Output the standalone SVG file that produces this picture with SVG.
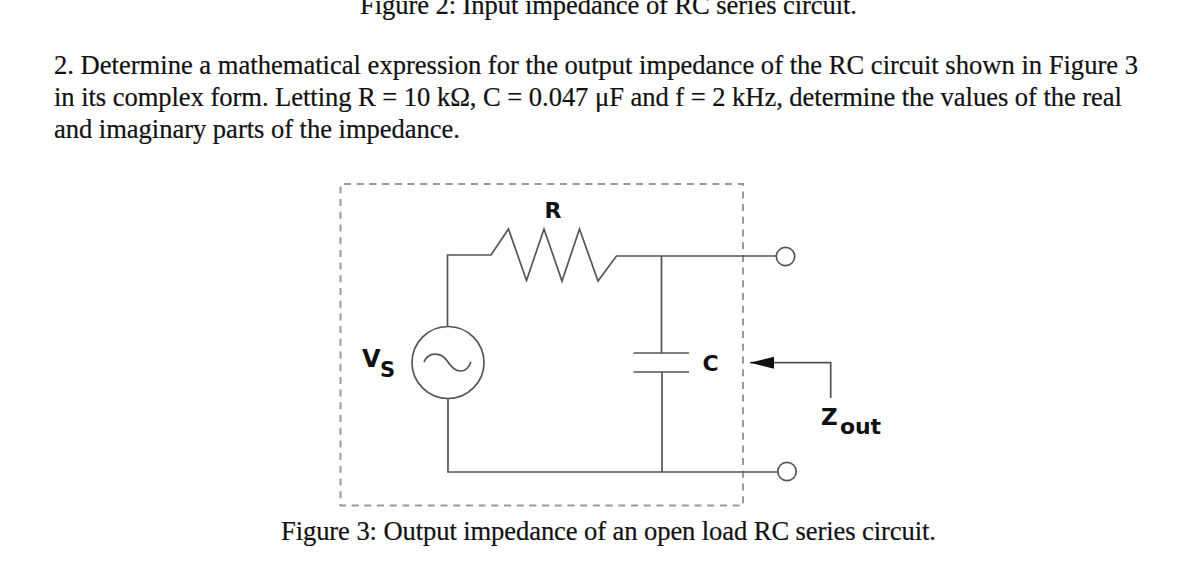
<svg xmlns="http://www.w3.org/2000/svg" width="1200" height="574" viewBox="0 0 1200 574">
<defs>
<style>
.t{font-family:"Liberation Serif","Times New Roman",serif;font-size:26.6px;fill:#111;stroke:#111;stroke-width:.2}
.l{font-family:"DejaVu Sans",sans-serif;font-weight:bold;fill:#111}
.w{fill:none;stroke:#555;stroke-width:1.7}
.d{fill:none;stroke:#999;stroke-width:2;stroke-dasharray:7 5.7;stroke-dashoffset:-3.5}
</style>
<marker id="ah" markerUnits="userSpaceOnUse" markerWidth="26" markerHeight="14" refX="24" refY="7" orient="auto"><path d="M0 1L24 7L0 13Z" fill="#111"/></marker>
</defs>
<rect width="1200" height="574" fill="#fff"/>
<g id="text">
<text class="t" x="360" y="14" textLength="497">Figure 2: Input impedance of RC series circuit.</text>
<text class="t" x="54" y="74" textLength="1084">2. Determine a mathematical expression for the output impedance of the RC circuit shown in Figure 3</text>
<text class="t" x="54" y="106" textLength="1068">in its complex form. Letting R = 10 kΩ, C = 0.047 μF and f = 2 kHz, determine the values of the real</text>
<text class="t" x="54" y="138" textLength="406">and imaginary parts of the impedance.</text>
<text class="t" x="281" y="540" textLength="655">Figure 3: Output impedance of an open load RC series circuit.</text>
</g>
<g id="boundary"><rect class="d" x="340.5" y="184" width="402.5" height="321.5"/></g>
<g id="connectors">
<path class="w" d="M447.5 327V255H491L508.5 229L526.5 280.5L544 229L562 281L579.5 229L598 281L616.5 256H776.5"/>
<path class="w" d="M661.5 256V353M662 372V472M448 399V472H778"/>
<path class="w" d="M830.7 398V362.7H750" marker-end="url(#ah)"/>
</g>
<g id="source"><circle class="w" cx="448" cy="362.5" r="36"/><path class="w" d="M424 362C428 352 441 351 448 362S466 375 471 362"/>
<text class="l" x="362" y="367" font-size="24">V</text><text class="l" x="380" y="377" font-size="21">S</text></g>
<g id="resistor-label"><text class="l" x="553" y="218" font-size="22" text-anchor="middle">R</text></g>
<g id="capacitor"><path class="w" d="M633.5 353H689M633.5 372H689"/><text class="l" x="710.5" y="371" font-size="22" text-anchor="middle">C</text></g>
<g id="terminal-top"><circle class="w" cx="785.5" cy="256.5" r="9.2" fill="#fff"/></g>
<g id="terminal-bottom"><circle class="w" cx="787" cy="471.5" r="9.2" fill="#fff"/></g>
<g id="zout"><text class="l" x="821" y="425" font-size="23">Z</text><text class="l" x="840" y="434" font-size="22" textLength="41">out</text></g>
</svg>
